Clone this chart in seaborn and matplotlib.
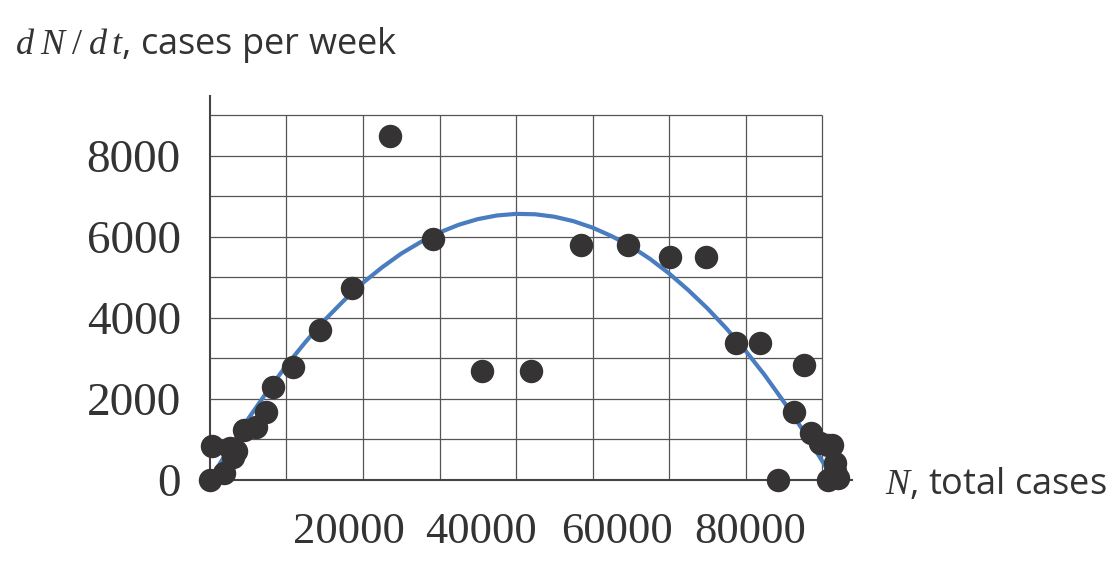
import numpy as np
import pandas as pd
import matplotlib
matplotlib.use('Agg')
import matplotlib.pyplot as plt
import seaborn as sns

sns.set_style('white')
plt.rcParams['font.family'] = ['Liberation Serif', 'DejaVu Serif']
plt.rcParams['mathtext.fontset'] = 'custom'
plt.rcParams['mathtext.it'] = 'Liberation Serif:italic'
plt.rcParams['mathtext.rm'] = 'Liberation Serif'

# observed weekly points: total cases N vs new cases per week dN/dt
total_cases = [0, 300, 1900, 2600, 3000, 3400, 4500, 6000, 7300, 8200,
               10900, 14400, 18500, 23500, 29200, 35500, 42000, 48500,
               54600, 60100, 64800, 68800, 71900, 74300, 76300, 77600,
               78500, 79700, 80800, 81300, 81700, 81700, 80800, 82100]
cases_per_week = [0, 850, 170, 800, 580, 720, 1230, 1320, 1670, 2300,
                  2790, 3700, 4750, 8500, 5960, 2700, 2700, 5800,
                  5800, 5510, 5510, 3380, 3380, 0, 1690, 2830,
                  1150, 910, 860, 860, 410, 210, 0, 50]

# fitted logistic curve
curve_n = [0, 2500, 5000, 7500, 10000, 12500, 15000, 17500, 20000, 22500,
           25000, 27500, 30000, 32500, 35000, 37500, 40000, 42500, 45000,
           47500, 50000, 52500, 55000, 57500, 60000, 62500, 65000, 67500,
           70000, 72500, 75000, 77500, 80000, 81500]
curve_rate = [0, 780, 1510, 2190, 2830, 3410, 3950, 4430, 4870, 5250,
              5590, 5870, 6110, 6300, 6440, 6530, 6570, 6560, 6500,
              6390, 6230, 6020, 5770, 5460, 5100, 4690, 4240, 3740,
              3190, 2590, 1930, 1230, 475, 0]

grid_x = [10000, 20000, 30000, 40000, 50000, 60000, 70000, 80000]
grid_y = [1000, 2000, 3000, 4000, 5000, 6000, 7000, 8000, 9000]
ytick_vals = [0, 2000, 4000, 6000, 8000]
ytick_labels = ['0', '2000', '4000', '6000', '8000']
xtick_vals = [18200, 35400, 53200, 70600]
xtick_labels = ['20000', '40000', '60000', '80000']

pts = pd.DataFrame({'N': total_cases, 'rate': cases_per_week})
fit = pd.DataFrame({'N': curve_n, 'rate': curve_rate})

fig = plt.figure(figsize=(11.18, 5.62), dpi=100)
ax = fig.add_axes([0.1878, 0.1459, 0.5742, 0.6833])

grid_col = '#555555'
ax.vlines(grid_x, 0, 9000, color=grid_col, lw=0.9, zorder=1)
ax.hlines(grid_y, 0, 80000, color=grid_col, lw=0.9, zorder=1)

sns.lineplot(data=fit, x='N', y='rate', ax=ax, color='#4a7dc0', lw=3,
             zorder=3, sort=True)
sns.scatterplot(data=pts, x='N', y='rate', ax=ax, color='#353334', s=285,
                linewidth=0, zorder=4, clip_on=False)

ax.set_xlim(0, 83900)
ax.set_ylim(0, 9480)

for side in ['top', 'right']:
    ax.spines[side].set_visible(False)
for side in ['left', 'bottom']:
    ax.spines[side].set_color('#444444')
    ax.spines[side].set_linewidth(1.5)

ax.set_yticks(ytick_vals)
ax.set_yticklabels(ytick_labels)
ax.set_yticks([v for v in grid_y if v not in ytick_vals], minor=True)
ax.tick_params(axis='y', which='both', direction='in', length=13, width=1.2,
               color='#555555', pad=21, labelsize=34, labelcolor='#333333')

ax.set_xticks(xtick_vals)
ax.set_xticklabels(xtick_labels)
ax.set_xticks(grid_x, minor=True)
ax.tick_params(axis='x', which='major', length=0, pad=23, labelsize=32,
               labelcolor='#333333')
ax.tick_params(axis='x', which='minor', direction='in', length=12, width=1.2,
               color='#777777')

ax.set_xlabel('')
ax.set_ylabel('')

fig.text(15 / 1118, 1 - 45 / 562, r'$d\;N\;/\;d\,t$, cases per week',
         family='Open Sans', fontsize=26, fontweight=500, color='#333333',
         ha='left', va='center')
fig.text(885 / 1118, 1 - 485 / 562, r'$N$, total cases',
         family='Open Sans', fontsize=26, fontweight=500, color='#333333',
         ha='left', va='center')

fig.savefig('out.png', dpi=100)
plt.close(fig)
